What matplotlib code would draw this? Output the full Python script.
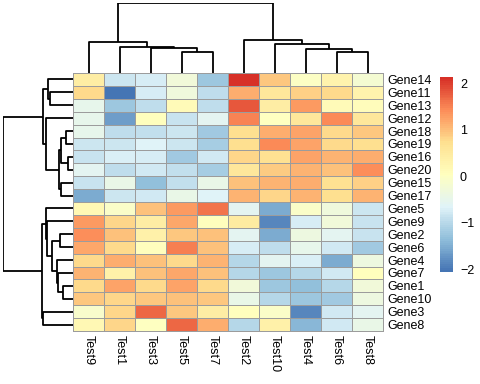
import numpy as np
import matplotlib
matplotlib.use("Agg")
import matplotlib.pyplot as plt
from matplotlib.colors import LinearSegmentedColormap, ListedColormap

plt.rcParams['font.family'] = ['Liberation Sans', 'DejaVu Sans']

# etiquetas en el orden mostrado (orden de hojas de los dendrogramas)
genes = ["Gene14", "Gene11", "Gene13", "Gene12", "Gene18", "Gene19", "Gene16",
         "Gene20", "Gene15", "Gene17", "Gene5", "Gene9", "Gene2", "Gene6",
         "Gene4", "Gene7", "Gene1", "Gene10", "Gene3", "Gene8"]
tests = ["Test9", "Test1", "Test3", "Test5", "Test7",
         "Test2", "Test10", "Test4", "Test6", "Test8"]

values = [
    [0.42, -0.83, -0.76, -0.30, -1.25, 2.13, 0.93, -0.04, 0.31, -0.21],
    [0.78, -2.06, -0.73, -0.34, -0.96, 1.13, 0.55, 0.85, 0.76, 0.31],
    [-0.48, -1.26, -0.93, 0.12, -0.94, 1.81, 0.44, 1.31, 0.12, 0.10],
    [-0.48, -1.68, 0.05, -0.87, -0.57, 1.47, 0.00, 0.55, 1.43, 0.55],
    [-0.48, -0.94, -0.91, -0.83, -1.19, 0.73, 1.15, 1.24, 0.76, 0.93],
    [-0.83, -0.83, -0.67, -0.83, -1.14, 0.73, 1.43, 1.24, 0.76, 0.73],
    [-0.87, -0.69, -0.75, -1.19, -0.79, 0.82, 0.67, 1.23, 1.09, 1.13],
    [-0.59, -0.94, -0.77, -0.91, -1.14, 0.55, 0.91, 1.09, 0.97, 1.41],
    [-0.87, -0.46, -1.34, -0.91, -0.46, 0.99, 1.10, 1.15, 0.70, 0.86],
    [-1.54, -0.83, -0.77, -0.46, -0.66, 1.09, 0.79, 1.09, 0.73, 1.09],
    [0.17, -0.07, 0.97, 1.31, 1.62, -0.57, -1.54, -0.05, -0.34, -0.83],
    [1.31, 0.83, 0.42, 1.19, 0.05, 0.49, -1.87, -0.73, -0.30, -0.87],
    [1.41, 0.97, 0.33, 0.93, 0.97, -0.57, -1.54, -0.37, -0.57, -0.87],
    [1.19, 0.77, 0.05, 1.53, 0.97, -0.73, -0.94, -0.48, -0.77, -1.19],
    [0.77, 1.15, 0.97, 0.76, 1.09, -1.05, -0.57, -0.69, -1.54, -0.37],
    [1.09, 0.37, 0.97, 1.19, 0.97, -1.05, -1.23, -1.05, -0.77, 0.05],
    [0.77, 1.24, 0.76, 1.24, 0.76, -0.30, -1.26, -1.34, -1.05, -0.30],
    [0.93, 0.83, 0.93, 0.97, 0.93, -0.46, -1.05, -1.26, -1.19, -0.37],
    [-0.12, 0.83, 1.71, 0.93, 0.42, 0.05, -0.07, -1.87, -0.77, -0.57],
    [0.19, 0.79, 0.00, 1.71, 1.15, -1.05, 0.37, -1.40, -0.77, -0.46],
]

# fusiones (hijo_a, hijo_b, altura); un entero es una fusión previa
row_merges = [
    ("Gene11", "Gene13", 23.3),
    ("Gene14", 0, 24.6),
    ("Gene18", "Gene19", 6.7),
    ("Gene16", "Gene20", 5.0),
    (2, 3, 11.7),
    ("Gene15", "Gene17", 11.7),
    (4, 5, 14.0),
    ("Gene12", 6, 27.3),
    (1, 7, 29.6),
    ("Gene1", "Gene10", 10.0),
    ("Gene7", 9, 14.7),
    ("Gene4", 10, 15.7),
    ("Gene2", "Gene6", 13.3),
    (12, 11, 21.0),
    ("Gene9", 13, 25.7),
    ("Gene5", 14, 27.3),
    ("Gene3", "Gene8", 30.0),
    (15, 16, 30.7),
    (8, 17, 70.0),
]
col_merges = [
    ("Test5", "Test7", 20.7),
    ("Test3", 0, 24.7),
    ("Test1", 1, 25.7),
    ("Test9", 2, 30.7),
    ("Test6", "Test8", 20.7),
    ("Test4", 4, 23.7),
    ("Test10", 5, 28.7),
    ("Test2", 6, 32.7),
    (3, 7, 69.7),
]

W, H = 480, 384


def fax(fig, x0, y0, x1, y1):
    # ejes en coordenadas de pixel (origen arriba a la izquierda)
    return fig.add_axes([x0 / W, 1 - y1 / H, (x1 - x0) / W, (y1 - y0) / H])


def dendro(ax, merges, leaves, horizontal):
    pos = {name: i + 0.5 for i, name in enumerate(leaves)}
    nodes = []
    for a, b, h in merges:
        pa, ha = (nodes[a] if isinstance(a, int) else (pos[a], 0.0))
        pb, hb = (nodes[b] if isinstance(b, int) else (pos[b], 0.0))
        p = [pa, pa, pb, pb]
        q = [ha, h, h, hb]
        if horizontal:
            ax.plot(p, q, color='black', lw=1.3, solid_capstyle='butt')
        else:
            ax.plot(q, p, color='black', lw=1.3, solid_capstyle='butt')
        nodes.append(((pa + pb) / 2, h))
    ax.axis('off')


data = np.array(values)
palette = ["#4575B4", "#91BFDB", "#E0F3F8", "#FFFFBF", "#FEE090", "#FC8D59", "#D73027"]
cmap = ListedColormap(LinearSegmentedColormap.from_list("rdylbu", palette)(np.linspace(0, 1, 100)))
vmin, vmax = data.min(), data.max()

fig = plt.figure(figsize=(W / 100, H / 100), dpi=100)

ax = fax(fig, 73, 73, 383, 331)
mesh = ax.pcolormesh(data, cmap=cmap, vmin=vmin, vmax=vmax,
                     edgecolors='#9C9C9C', linewidth=0.6)
mesh.set_clip_on(False)
ax.set_xlim(0, len(tests))
ax.set_ylim(len(genes), 0)
for s in ax.spines.values():
    s.set_visible(False)
ax.yaxis.tick_right()
ax.set_yticks(np.arange(len(genes)) + 0.5)
ax.set_yticklabels(genes, fontsize=9)
ax.set_xticks(np.arange(len(tests)) + 0.5)
ax.set_xticklabels(tests, fontsize=9, rotation=270, va='top', ha='center')
ax.tick_params(length=0, pad=3)

axc = fax(fig, 73, 3, 383, 73)
dendro(axc, col_merges, tests, True)
axc.set_xlim(0, len(tests))
axc.set_ylim(0, 70)

axr = fax(fig, 3, 73, 73, 331)
dendro(axr, row_merges, genes, False)
axr.set_ylim(len(genes), 0)
axr.set_xlim(70, 0)

cax = fax(fig, 440, 77, 453, 272)
cb = fig.colorbar(mesh, cax=cax, ticks=[-2, -1, 0, 1, 2])
cb.outline.set_visible(False)
cb.ax.tick_params(length=0, pad=5, labelsize=9)

plt.savefig("out.png", dpi=100)
plt.close()
